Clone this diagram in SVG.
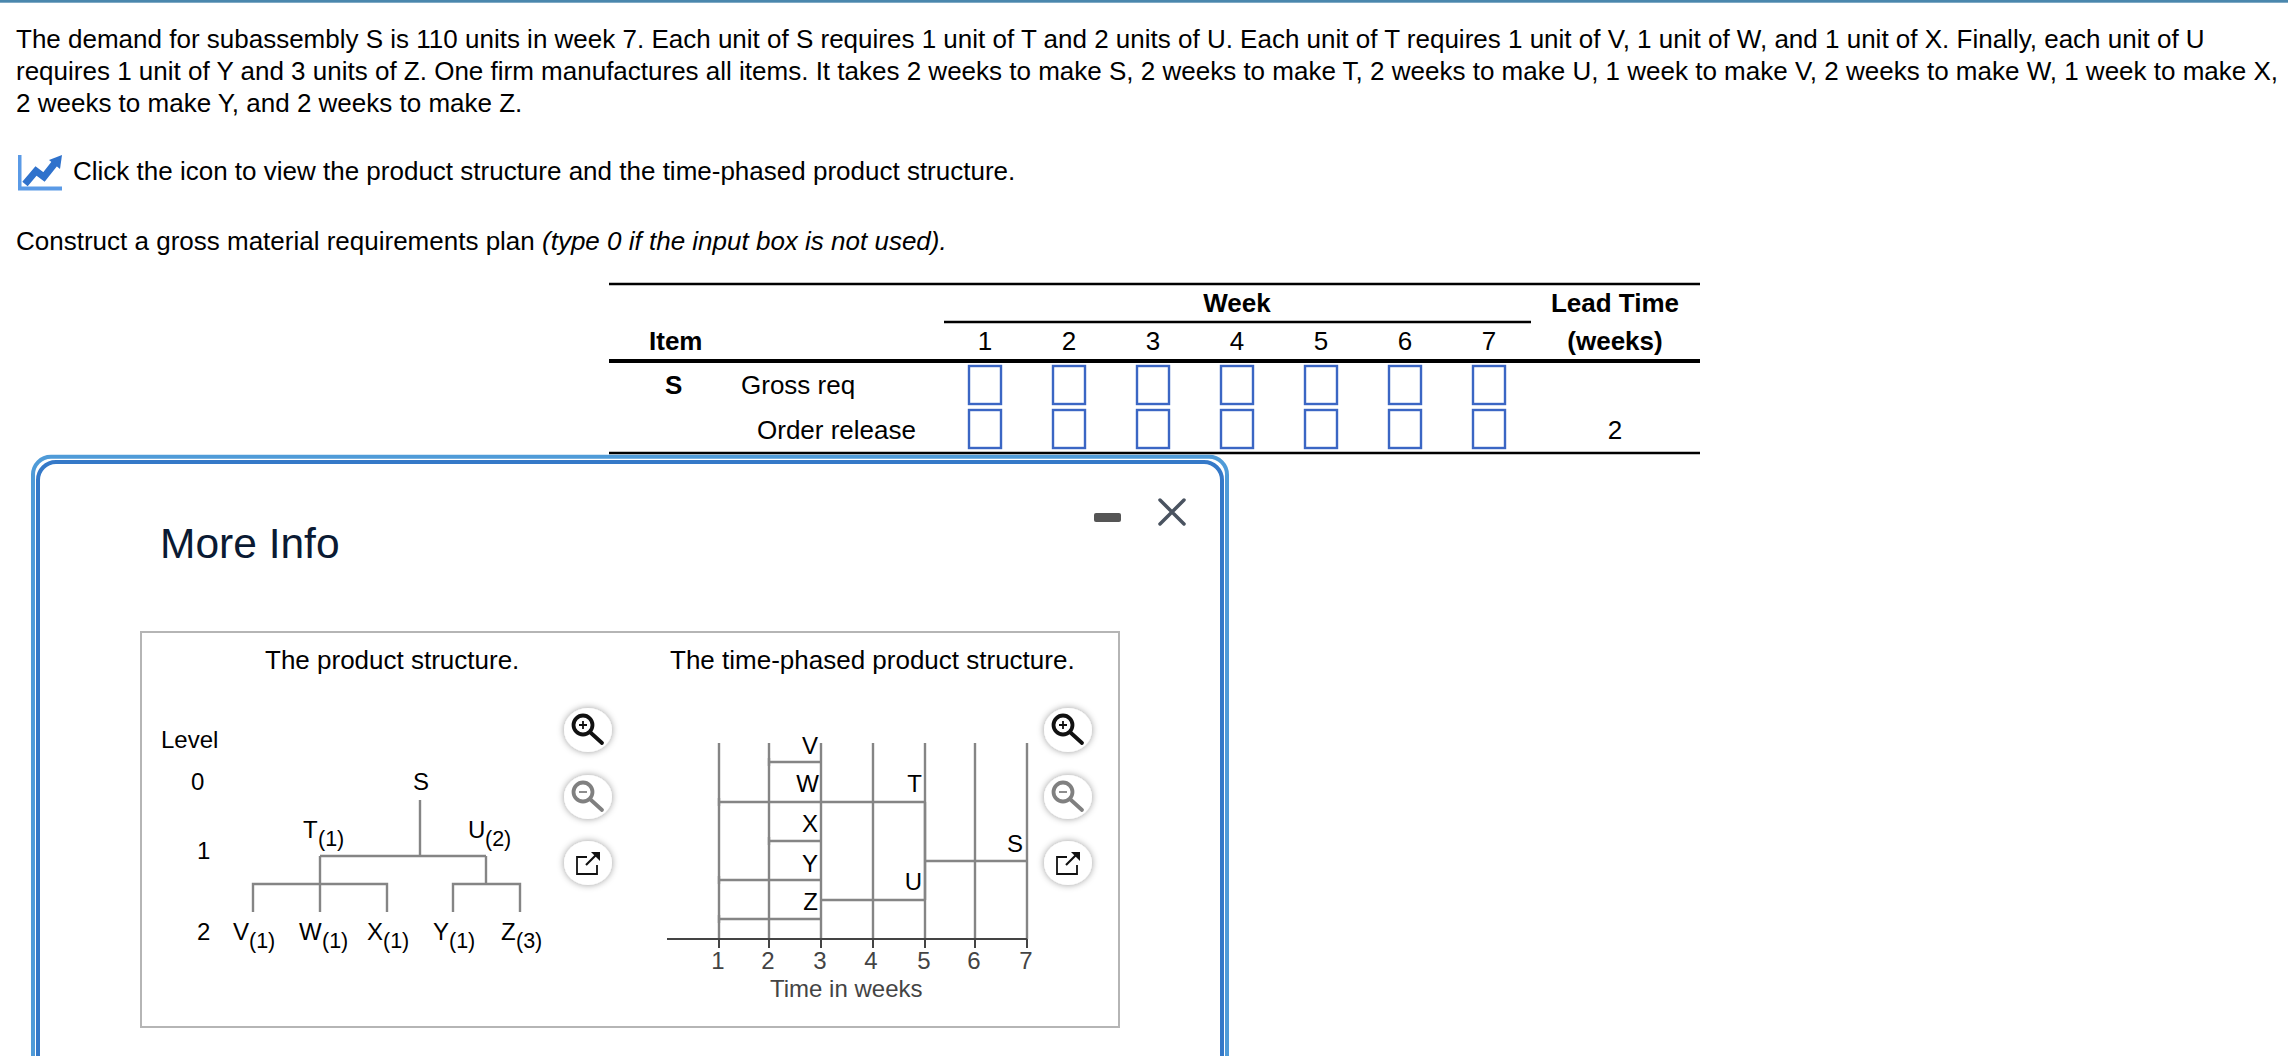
<svg xmlns="http://www.w3.org/2000/svg" width="2288" height="1056" viewBox="0 0 2288 1056">
<style>
text{font-family:"Liberation Sans",Arial,sans-serif;fill:#000}
.m{font-size:26px}
.b{font-weight:bold}
.c{text-anchor:middle}
.r{text-anchor:end}
.i{font-style:italic}
.l{font-size:24px}
.s{font-size:21.500px}
.g{fill:#444}
.box{fill:#fff;stroke:#3b66c4;stroke-width:2.400}
.rule{stroke:#000;fill:none}
.con{stroke:#858585;stroke-width:2.400;fill:none}
.btn{fill:#fff;filter:url(#sh)}
.ic{fill:none;stroke:#111;stroke-width:3.800;stroke-linecap:round}
.ig{fill:none;stroke:#808080;stroke-width:3.800;stroke-linecap:round}
</style>
<defs>
<filter id="sh" x="-30%" y="-30%" width="160%" height="160%"><feDropShadow dx="0" dy="0" stdDeviation="3.500" flood-color="#000" flood-opacity="0.4"/></filter>
<g id="zin"><circle cx="-5" cy="-5" r="9.500" class="ic"/><path d="M3 3L14 13" class="ic"/><path d="M-9 -5H-1M-5 -9V-1" stroke="#111" stroke-width="1.800" fill="none"/></g>
<g id="zout"><circle cx="-5" cy="-5" r="9.500" class="ig"/><path d="M3 3L14 13" class="ig"/><path d="M-9 -5H-1" stroke="#808080" stroke-width="1.800" fill="none"/></g>
<g id="ext"><path d="M-1 -6H-11V11H9V2" fill="none" stroke="#111" stroke-width="1.800"/><path d="M-2 2L8 -8" stroke="#111" stroke-width="2.200"/><path d="M3 -11H12V-2Z" fill="#111"/></g>
</defs>
<rect width="2288" height="1056" fill="#fff"/>
<rect id="topbar" width="2288" height="2.700" fill="#4a87ad"/>
<g id="question">
<text class="m" x="16" y="48">The demand for subassembly S is 110 units in week 7. Each unit of S requires 1 unit of T and 2 units of U. Each unit of T requires 1 unit of V, 1 unit of W, and 1 unit of X. Finally, each unit of U</text>
<text class="m" x="16" y="80">requires 1 unit of Y and 3 units of Z. One firm manufactures all items. It takes 2 weeks to make S, 2 weeks to make T, 2 weeks to make U, 1 week to make V, 2 weeks to make W, 1 week to make X,</text>
<text class="m" x="16" y="112">2 weeks to make Y, and 2 weeks to make Z.</text>
<text class="m" x="73" y="180">Click the icon to view the product structure and the time-phased product structure.</text>
<text class="m" x="16" y="250">Construct a gross material requirements plan <tspan class="i">(type 0 if the input box is not used).</tspan></text>
</g>
<g id="chart-icon">
<path d="M18 155H21.500V186.500H62V190.500H18Z" fill="#5a9ae6"/>
<path d="M25 184L36 171L44 177L55 163" fill="none" stroke="#2f72cc" stroke-width="7"/>
<path d="M49 160L62 155L60 169Z" fill="#2f72cc"/>
</g>
<g id="table">
<path class="rule" stroke-width="2.400" d="M609 284H1700M944 322H1531M609 453H1700"/>
<path class="rule" stroke-width="4" d="M609 361H1700"/>
<text class="m b c" x="1237" y="312">Week</text>
<text class="m b c" x="1615" y="312">Lead Time</text>
<text class="m b c" x="1615" y="350">(weeks)</text>
<text class="m b" x="649" y="350">Item</text>
<text class="m c" x="985" y="350">1</text><text class="m c" x="1069" y="350">2</text><text class="m c" x="1153" y="350">3</text><text class="m c" x="1237" y="350">4</text><text class="m c" x="1321" y="350">5</text><text class="m c" x="1405" y="350">6</text><text class="m c" x="1489" y="350">7</text>
<text class="m b" x="665" y="394">S</text>
<text class="m" x="741" y="394">Gross req</text>
<text class="m" x="757" y="439">Order release</text>
<text class="m c" x="1615" y="439">2</text>
<rect class="box" x="969" y="366" width="32" height="38"/><rect class="box" x="1053" y="366" width="32" height="38"/><rect class="box" x="1137" y="366" width="32" height="38"/><rect class="box" x="1221" y="366" width="32" height="38"/><rect class="box" x="1305" y="366" width="32" height="38"/><rect class="box" x="1389" y="366" width="32" height="38"/><rect class="box" x="1473" y="366" width="32" height="38"/>
<rect class="box" x="969" y="410" width="32" height="38"/><rect class="box" x="1053" y="410" width="32" height="38"/><rect class="box" x="1137" y="410" width="32" height="38"/><rect class="box" x="1221" y="410" width="32" height="38"/><rect class="box" x="1305" y="410" width="32" height="38"/><rect class="box" x="1389" y="410" width="32" height="38"/><rect class="box" x="1473" y="410" width="32" height="38"/>
</g>
<g id="panel">
<path d="M33 1060V475A18 18 0 0 1 51 456.700H1209A18 18 0 0 1 1227 475V1060" fill="#fff" stroke="#4f9bd8" stroke-width="4"/>
<path d="M38 1060V480A18 18 0 0 1 56 462H1204A18 18 0 0 1 1222 480V1060" fill="#fff" stroke="#3579c8" stroke-width="4"/>
<text x="160" y="558" font-size="42.500" style="fill:#0a1a33">More Info</text>
<rect x="1094" y="513" width="27" height="9" rx="2" fill="#555"/>
<path d="M1160 500L1184 524M1184 500L1160 524" stroke="#4a5360" stroke-width="3.500" stroke-linecap="round" fill="none"/>
<rect x="141" y="632" width="978" height="395" fill="#fff" stroke="#b5b5b5" stroke-width="2"/>
<text class="m" x="265" y="669">The product structure.</text>
<text class="m" x="670" y="669">The time-phased product structure.</text>
</g>
<g id="tree-connectors">
<path class="con" d="M420 800V856M320 856H486M320 856V912M253 912V884H387V912M486 856V884M453 912V884H520V912"/>
</g>
<g id="tree-labels">
<text class="l" x="161" y="748">Level</text>
<text class="l" x="191" y="790">0</text>
<text class="l" x="197" y="859">1</text>
<text class="l" x="197" y="940">2</text>
</g>
<g id="node-S"><text class="l" x="413" y="790">S</text></g>
<g id="node-T"><text class="l" x="303" y="838">T</text><text class="s" x="318" y="846">(1)</text></g>
<g id="node-U"><text class="l" x="468" y="838">U</text><text class="s" x="485" y="846">(2)</text></g>
<g id="node-V"><text class="l" x="233" y="940">V</text><text class="s" x="249" y="948">(1)</text></g>
<g id="node-W"><text class="l" x="299" y="940">W</text><text class="s" x="322" y="948">(1)</text></g>
<g id="node-X"><text class="l" x="367" y="940">X</text><text class="s" x="383" y="948">(1)</text></g>
<g id="node-Y"><text class="l" x="433" y="940">Y</text><text class="s" x="449" y="948">(1)</text></g>
<g id="node-Z"><text class="l" x="501" y="940">Z</text><text class="s" x="516" y="948">(3)</text></g>
<g id="timeline-connectors">
<path class="con" d="M719 743V939M769 743V939M821 743V939M873 743V939M925 743V939M975 743V939M1027 743V939"/>
<path class="con" d="M769 762H821M719 802H925M769 841H821M719 880H821M719 919H821M821 900H925M925 861H1027M925 802V900"/>
<path class="con" d="M769 758V766M719 798V806M769 837V845M719 876V884M719 915V923"/>
<path d="M667 939H1027M719 939V948M769 939V948M821 939V948M873 939V948M925 939V948M975 939V948M1027 939V948" stroke="#444" stroke-width="2" fill="none"/>
</g>
<g id="timeline-labels">
<text class="l r" x="818" y="754">V</text><text class="l r" x="819" y="792">W</text><text class="l r" x="818" y="832">X</text><text class="l r" x="818" y="872">Y</text><text class="l r" x="818" y="910">Z</text>
<text class="l r" x="922" y="792">T</text><text class="l r" x="922" y="890">U</text><text class="l r" x="1023" y="852">S</text>
<text class="l c g" x="718" y="969">1</text><text class="l c g" x="768" y="969">2</text><text class="l c g" x="820" y="969">3</text><text class="l c g" x="871" y="969">4</text><text class="l c g" x="924" y="969">5</text><text class="l c g" x="974" y="969">6</text><text class="l c g" x="1026" y="969">7</text>
<text class="l g" x="770" y="997">Time in weeks</text>
</g>
<g id="buttons-left">
<ellipse class="btn" cx="588" cy="730" rx="24" ry="22"/><use href="#zin" x="588" y="730"/>
<ellipse class="btn" cx="588" cy="797" rx="24" ry="22"/><use href="#zout" x="588" y="797"/>
<ellipse class="btn" cx="588" cy="863" rx="24" ry="22"/><use href="#ext" x="588" y="863"/>
</g>
<g id="buttons-right">
<ellipse class="btn" cx="1068" cy="730" rx="24" ry="22"/><use href="#zin" x="1068" y="730"/>
<ellipse class="btn" cx="1068" cy="797" rx="24" ry="22"/><use href="#zout" x="1068" y="797"/>
<ellipse class="btn" cx="1068" cy="863" rx="24" ry="22"/><use href="#ext" x="1068" y="863"/>
</g>
</svg>
